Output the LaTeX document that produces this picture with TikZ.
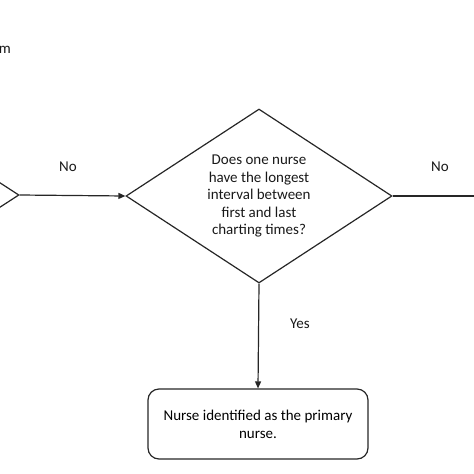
\documentclass[tikz,border=0pt]{standalone}
\usepackage{fontspec}
\setmainfont{Carlito}
\usetikzlibrary{shapes.geometric,arrows.meta}
\tikzset{
  dec/.style={diamond,draw=black!85,line width=1.2pt,inner sep=0pt},
  lbl/.style={font=\fontsize{15}{17.5}\selectfont,text=black!90},
  conn/.style={draw=black!85,line width=1.2pt},
  arr/.style={conn,-{Triangle[length=7pt,width=6pt]}},
  proc/.style={draw=black!85,line width=1.2pt,rounded corners=11pt,minimum width=220pt,minimum height=70pt,align=center,font=\fontsize{15}{18}\selectfont}
}
\begin{document}
\begin{tikzpicture}[x=1pt,y=-1pt]
\useasboundingbox (0,0) rectangle (474,474);
\clip (0,0) rectangle (474,474);
\node[lbl,anchor=base east] (top) at (14.5,53) {from};
\node[dec,minimum width=200pt,minimum height=130pt] (prev) at (-81,195) {};
\node[dec,minimum width=266pt,minimum height=174pt] (q) at (259,196) {};
\node[lbl,align=center] (qtext) at (q.center) {Does one nurse\\have the longest\\interval between\\first and last\\charting times?};
\coordinate (nextin) at (490,196);
\node[proc] (res) at (258,424) {Nurse identified as the primary\\nurse.};
\draw[arr] (prev.east) -- (q.west);
\draw[conn] (q.east) -- (nextin);
\draw[arr] (q.south) -- (res.north);
\node[lbl] (no1) at (68,167) {No};
\node[lbl] (no2) at (440,167) {No};
\node[lbl] (yes) at (300,324) {Yes};
\end{tikzpicture}
\end{document}
